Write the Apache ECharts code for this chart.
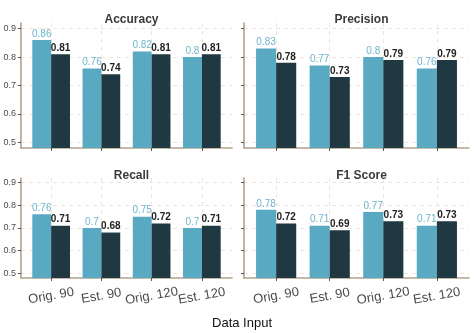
<!DOCTYPE html>
<html>
<head>
<meta charset="utf-8">
<script src="https://cdn.jsdelivr.net/npm/echarts@6/dist/echarts.min.js"></script>
<style>html,body{margin:0;padding:0;background:#fff}#c{width:474px;height:333px}</style>
</head>
<body>
<div id="c"></div>
<script>
var categories = ['Orig. 90', 'Est. 90', 'Orig. 120', 'Est. 120'];
var panelTitles = ['Accuracy', 'Precision', 'Recall', 'F1 Score'];
var yTicks = [0.5, 0.6, 0.7, 0.8, 0.9];
var accuracyLight = [0.86, 0.76, 0.82, 0.80];
var accuracyDark = [0.81, 0.74, 0.81, 0.81];
var precisionLight = [0.83, 0.77, 0.80, 0.76];
var precisionDark = [0.78, 0.73, 0.79, 0.79];
var recallLight = [0.76, 0.70, 0.75, 0.70];
var recallDark = [0.71, 0.68, 0.72, 0.71];
var f1Light = [0.78, 0.71, 0.77, 0.71];
var f1Dark = [0.72, 0.69, 0.73, 0.73];
var xAxisTitle = 'Data Input';

var lightSeries = [accuracyLight, precisionLight, recallLight, f1Light];
var darkSeries = [accuracyDark, precisionDark, recallDark, f1Dark];

var grids = [
  {left: 21, top: 23, width: 211, height: 125},
  {left: 244, top: 23, width: 225, height: 125},
  {left: 21, top: 178, width: 211, height: 100},
  {left: 244, top: 178, width: 225, height: 100}
];
var X_MIN = 0.4, X_MAX = 4.6;
var catPos = categories.map(function (c, i) { return i + 1; });
var labelPos = [X_MIN].concat(catPos).concat([X_MAX]);
var axisCol = '#b3a28d';
var splitCol = '#efe4d8';
var FONT = '"Liberation Sans", Arial, sans-serif';

var option = {
  animation: false,
  backgroundColor: '#ffffff',
  textStyle: {fontFamily: FONT},
  title: [],
  grid: grids,
  xAxis: [],
  yAxis: [],
  series: []
};

panelTitles.forEach(function (t, i) {
  var g = grids[i];
  option.title.push({
    text: t, left: g.left + g.width / 2, top: i < 2 ? 9 : 165, textAlign: 'center',
    textStyle: {fontSize: 12, fontWeight: 'bold', color: '#3b3b3b', fontFamily: FONT}
  });
  var bottomRow = i >= 2;
  option.xAxis.push({
    gridIndex: i, type: 'value', min: X_MIN, max: X_MAX,
    axisLine: {show: true, onZero: false, lineStyle: {color: axisCol, width: 1.6}},
    axisTick: {show: true, length: 3, customValues: catPos, lineStyle: {color: '#555', width: 1}},
    axisLabel: {show: bottomRow, customValues: labelPos, rotate: 10, align: 'center', verticalAlign: 'middle',
      hideOverlap: false,
      margin: 18, fontSize: 13, color: '#4a4a4a', fontFamily: FONT,
      formatter: function (v) {
        var k = Math.round(v);
        return Math.abs(v - k) < 1e-6 ? (categories[k - 1] || '') : '';
      }},
    splitLine: {show: true, lineStyle: {color: splitCol, type: [4, 4], width: 1}}
  });
  option.yAxis.push({
    gridIndex: i, type: 'value', min: 0.48, max: 0.92,
    axisLine: {show: true, lineStyle: {color: axisCol, width: 1.6}},
    axisTick: {show: true, length: 3, customValues: yTicks, lineStyle: {color: '#555', width: 1}},
    axisLabel: {show: i % 2 === 0, customValues: yTicks, margin: 5, fontSize: 9, color: '#4a4a4a', fontFamily: FONT,
      hideOverlap: false,
      formatter: function (v) { return String(Math.round(v * 10) / 10); }},
    splitLine: {show: true, lineStyle: {color: splitCol, type: [4, 4], width: 1}}
  });
  option.series.push({
    type: 'bar', xAxisIndex: i, yAxisIndex: i,
    data: lightSeries[i].map(function (v, k) { return [catPos[k], v]; }),
    barWidth: '37.5%', barGap: '0%',
    itemStyle: {color: '#5aa9c3'},
    labelLayout: {hideOverlap: false},
    label: {show: true, position: 'top', distance: 1, fontSize: 10, color: '#6db4cd', fontFamily: FONT,
      formatter: function (p) { return String(p.value[1]); }}
  });
  option.series.push({
    type: 'bar', xAxisIndex: i, yAxisIndex: i,
    data: darkSeries[i].map(function (v, k) { return [catPos[k], v]; }),
    barWidth: '37.5%', barGap: '0%',
    itemStyle: {color: '#1f3841'},
    labelLayout: {hideOverlap: false},
    label: {show: true, position: 'top', distance: 1, fontSize: 10, fontWeight: 'bold', color: '#222', fontFamily: FONT,
      formatter: function (p) { return String(p.value[1]); }}
  });
});

option.title.push({
  text: xAxisTitle, left: 237, top: 312, textAlign: 'center',
  textStyle: {fontSize: 13, fontWeight: 'normal', color: '#111', fontFamily: FONT}
});

var chart = echarts.init(document.getElementById('c'), null, {renderer: 'canvas'});
chart.setOption(option);
</script>
</body>
</html>
